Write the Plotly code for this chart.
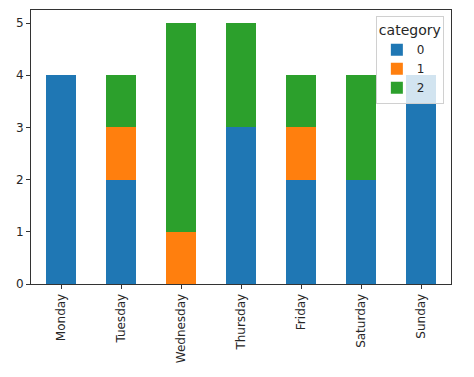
import plotly.graph_objects as go

days = ["Monday", "Tuesday", "Wednesday", "Thursday", "Friday", "Saturday", "Sunday"]
cat0 = [4, 2, 0, 3, 2, 2, 4]
cat1 = [0, 1, 1, 0, 1, 0, 0]
cat2 = [0, 1, 4, 2, 1, 2, 0]
series = [("0", cat0, "#1f77b4"), ("1", cat1, "#ff7f0e"), ("2", cat2, "#2ca02c")]

fig = go.Figure()
for name, vals, color in series:
    fig.add_trace(go.Bar(x=list(range(len(days))), y=vals, name=name,
                         marker=dict(color=color, line=dict(width=0)), width=0.5))

fig.update_layout(
    barmode="stack",
    width=458, height=361,
    margin=dict(l=23, r=15, t=2, b=85),
    plot_bgcolor="white", paper_bgcolor="white",
    font=dict(family="DejaVu Sans", size=12, color="#262626"),
    legend=dict(title=dict(text="category", side="top"), x=0.983, y=0.978, xanchor="right", yanchor="top",
                bgcolor="rgba(255,255,255,0.8)", bordercolor="#d0d0d0", borderwidth=1,
                font=dict(size=12), traceorder="normal"),
    showlegend=True,
)
fig.update_xaxes(range=[-0.5, 6.5], tickmode="array", tickvals=list(range(len(days))), ticktext=days,
                 tickangle=-90, showgrid=False, zeroline=False, showline=True, linecolor="#333",
                 mirror=True, ticks="outside", ticklen=4, tickcolor="#333")
fig.update_yaxes(range=[0, 5.25], tickvals=[0, 1, 2, 3, 4, 5], showgrid=False, zeroline=False,
                 showline=True, linecolor="#333", mirror=True, ticks="outside", ticklen=4, tickcolor="#333")

fig.write_html("out.html")
